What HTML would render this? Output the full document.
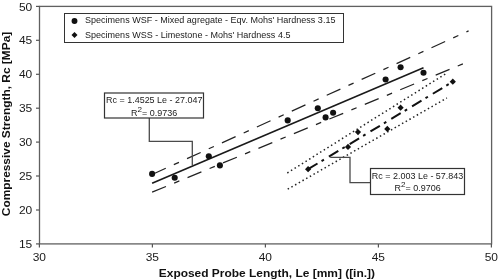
<!DOCTYPE html>
<html><head><meta charset="utf-8"><title>Chart</title>
<style>
html,body{margin:0;padding:0;background:#fff;}
body{width:498px;height:280px;overflow:hidden;}
svg{display:block;filter:blur(0.4px);}
text{font-family:"Liberation Sans",Arial,Helvetica,sans-serif;fill:#1a1a1a;}
.tick{font-size:11.3px;}
.ttl{font-size:10.8px;font-weight:bold;fill:#111;}
.sm{font-size:8.4px;}
</style></head><body>
<svg width="498" height="280" viewBox="0 0 498 280">
<rect x="0" y="0" width="498" height="280" fill="#fff"/>
<rect x="39.5" y="6.4" width="452.1" height="237.5" fill="none" stroke="#606060" stroke-width="1.3"/>
<line x1="36" x2="39.5" y1="243.9" y2="243.9" stroke="#555" stroke-width="1.2"/>
<text class="tick" transform="translate(32.2,248.0) scale(1.06,1)" text-anchor="end">15</text>
<line x1="36" x2="39.5" y1="210.0" y2="210.0" stroke="#555" stroke-width="1.2"/>
<text class="tick" transform="translate(32.2,214.1) scale(1.06,1)" text-anchor="end">20</text>
<line x1="36" x2="39.5" y1="176.0" y2="176.0" stroke="#555" stroke-width="1.2"/>
<text class="tick" transform="translate(32.2,180.1) scale(1.06,1)" text-anchor="end">25</text>
<line x1="36" x2="39.5" y1="142.1" y2="142.1" stroke="#555" stroke-width="1.2"/>
<text class="tick" transform="translate(32.2,146.2) scale(1.06,1)" text-anchor="end">30</text>
<line x1="36" x2="39.5" y1="108.2" y2="108.2" stroke="#555" stroke-width="1.2"/>
<text class="tick" transform="translate(32.2,112.3) scale(1.06,1)" text-anchor="end">35</text>
<line x1="36" x2="39.5" y1="74.3" y2="74.3" stroke="#555" stroke-width="1.2"/>
<text class="tick" transform="translate(32.2,78.4) scale(1.06,1)" text-anchor="end">40</text>
<line x1="36" x2="39.5" y1="40.3" y2="40.3" stroke="#555" stroke-width="1.2"/>
<text class="tick" transform="translate(32.2,44.4) scale(1.06,1)" text-anchor="end">45</text>
<line x1="36" x2="39.5" y1="6.4" y2="6.4" stroke="#555" stroke-width="1.2"/>
<text class="tick" transform="translate(32.2,10.5) scale(1.06,1)" text-anchor="end">50</text>
<line y1="243.9" y2="247.6" x1="39.4" x2="39.4" stroke="#555" stroke-width="1.2"/>
<text class="tick" transform="translate(39.3,260.6) scale(1.06,1)" text-anchor="middle">30</text>
<line y1="243.9" y2="247.6" x1="152.4" x2="152.4" stroke="#555" stroke-width="1.2"/>
<text class="tick" transform="translate(152.3,260.6) scale(1.06,1)" text-anchor="middle">35</text>
<line y1="243.9" y2="247.6" x1="265.4" x2="265.4" stroke="#555" stroke-width="1.2"/>
<text class="tick" transform="translate(265.3,260.6) scale(1.06,1)" text-anchor="middle">40</text>
<line y1="243.9" y2="247.6" x1="378.4" x2="378.4" stroke="#555" stroke-width="1.2"/>
<text class="tick" transform="translate(378.3,260.6) scale(1.06,1)" text-anchor="middle">45</text>
<line y1="243.9" y2="247.6" x1="491.4" x2="491.4" stroke="#555" stroke-width="1.2"/>
<text class="tick" transform="translate(491.3,260.6) scale(1.06,1)" text-anchor="middle">50</text>
<text class="ttl" transform="translate(158.8,277) scale(1.107,1)">Exposed Probe Length, Le [mm] ([in.])</text>
<text class="ttl" transform="translate(9.8,216.2) rotate(-90) scale(1.102,1)">Compressive Strength, Rc [MPa]</text>
<rect x="64.5" y="13.5" width="279" height="29" fill="#fff" stroke="#333" stroke-width="1"/>
<circle cx="74.5" cy="21" r="2.95" fill="#111"/>
<path d="M74.5 31.9 L77.5 34.9 L74.5 37.9 L71.5 34.9 Z" fill="#111"/>
<text class="sm" transform="translate(85,23.1) scale(1.075,1)">Specimens WSF - Mixed agregate - Eqv. Mohs' Hardness 3.15</text>
<text class="sm" transform="translate(85,37.5) scale(1.075,1)">Specimens WSS - Limestone - Mohs' Hardness 4.5</text>
<line x1="152.1" y1="183.2" x2="423.5" y2="67.7" stroke="#1a1a1a" stroke-width="1.6"/>
<line x1="152.1" y1="174.5" x2="468.6" y2="30.9" stroke="#222" stroke-width="1.25" stroke-dasharray="15 8.85 5.65 8.85"/>
<line x1="152.1" y1="192.2" x2="462.9" y2="63.9" stroke="#222" stroke-width="1.25" stroke-dasharray="15 8.85 5.65 8.85"/>
<line x1="308.1" y1="169.2" x2="452.8" y2="81.7" stroke="#111" stroke-width="2" stroke-dasharray="11 4.7 2.8 5.8"/>
<line x1="287.3" y1="173" x2="445.3" y2="74" stroke="#222" stroke-width="1.5" stroke-dasharray="1.5 2.8"/>
<line x1="287.7" y1="189.2" x2="446.9" y2="98" stroke="#222" stroke-width="1.5" stroke-dasharray="1.5 2.75"/>
<path d="M149.3 118 V141.3 H192.3 V165.1" fill="none" stroke="#4a4a4a" stroke-width="1.3"/>
<path d="M330.2 157.4 H350 V182.7 H370.5" fill="none" stroke="#4a4a4a" stroke-width="1.3"/>
<rect x="104.5" y="93" width="99" height="25" fill="#fff" stroke="#333" stroke-width="1.2"/>
<text class="sm" transform="translate(106,102.9) scale(1.068,1)">Rc = 1.4525 Le - 27.047</text>
<text class="sm" transform="translate(131,115.6) scale(1.068,1)">R<tspan dy="-3.8" font-size="7.6px">2</tspan><tspan dy="3.8">= 0.9736</tspan></text>
<rect x="370.5" y="168.5" width="94" height="26" fill="#fff" stroke="#333" stroke-width="1.2"/>
<text class="sm" transform="translate(371.8,178.8) scale(1.068,1)">Rc = 2.003 Le - 57.843</text>
<text class="sm" transform="translate(394.6,190.9) scale(1.068,1)">R<tspan dy="-3.8" font-size="7.6px">2</tspan><tspan dy="3.8">= 0.9706</tspan></text>
<circle cx="152.1" cy="173.9" r="3.05" fill="#111"/>
<circle cx="174.7" cy="177.7" r="3.05" fill="#111"/>
<circle cx="208.8" cy="156.3" r="3.05" fill="#111"/>
<circle cx="219.9" cy="165.4" r="3.05" fill="#111"/>
<circle cx="287.7" cy="120.4" r="3.05" fill="#111"/>
<circle cx="317.8" cy="108.3" r="3.05" fill="#111"/>
<circle cx="325.6" cy="117.4" r="3.05" fill="#111"/>
<circle cx="333.1" cy="112.8" r="3.05" fill="#111"/>
<circle cx="385.6" cy="79.5" r="3.05" fill="#111"/>
<circle cx="400.6" cy="67.2" r="3.05" fill="#111"/>
<circle cx="423.5" cy="72.7" r="3.05" fill="#111"/>
<path d="M308.1 166.1 L311.20000000000005 169.2 L308.1 172.29999999999998 L305.0 169.2 Z" fill="#111"/>
<path d="M348.0 143.8 L351.1 146.9 L348.0 150.0 L344.9 146.9 Z" fill="#111"/>
<path d="M358.0 129.0 L361.1 132.1 L358.0 135.2 L354.9 132.1 Z" fill="#111"/>
<path d="M387.3 125.80000000000001 L390.40000000000003 128.9 L387.3 132.0 L384.2 128.9 Z" fill="#111"/>
<path d="M400.6 104.60000000000001 L403.70000000000005 107.7 L400.6 110.8 L397.5 107.7 Z" fill="#111"/>
<path d="M452.8 78.60000000000001 L455.90000000000003 81.7 L452.8 84.8 L449.7 81.7 Z" fill="#111"/>
</svg></body></html>
